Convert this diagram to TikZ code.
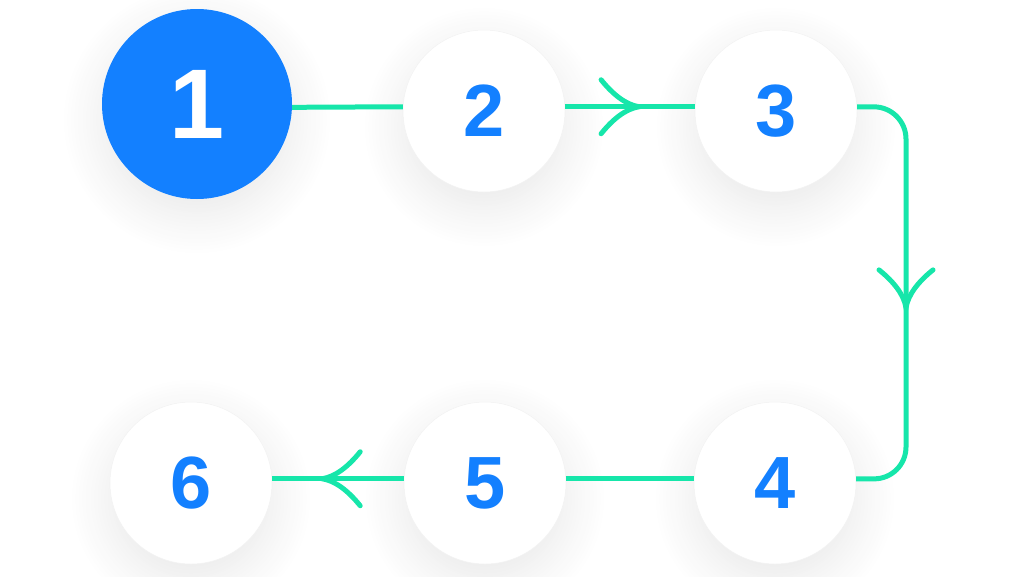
\documentclass[tikz,border=0pt]{standalone}
\usepackage{fontspec}
\setmainfont{Liberation Sans}
\usetikzlibrary{shadows.blur,decorations.markings}

\definecolor{stepblue}{RGB}{19,128,255}
\definecolor{linkgreen}{RGB}{22,230,170}

\tikzset{
  stepnode/.style={circle, fill=white, draw=black!5, line width=0.5pt, minimum size=162pt, inner sep=0pt,
    text=stepblue, font=\bfseries\fontsize{74}{74}\selectfont,
    blur shadow={shadow xshift=0pt, shadow yshift=-16pt, shadow blur radius=40pt,
      shadow blur steps=24, shadow opacity=9}},
  firstnode/.style={stepnode, fill=stepblue, draw=none, minimum size=190pt, text=white,
    font=\bfseries\fontsize{99}{99}\selectfont},
  link/.style={draw=linkgreen, line width=5pt},
  barb/.style={postaction=decorate, decoration={markings, mark=at position #1 with {
    \draw[linkgreen, line width=5pt, line cap=round]
      (-38pt,-27pt) .. controls (-26pt,-12pt) and (-13pt,-2pt) .. (0pt,0pt)
      .. controls (-13pt,2pt) and (-26pt,12pt) .. (-38pt,27pt);}}}
}

\begin{document}
\begin{tikzpicture}[x=1pt,y=-1pt]
\useasboundingbox (0,0) rectangle (1024,576);

\node (S1) at (197,104) [firstnode] {1};
\node (S2) at (484,111) [stepnode] {2};
\node (S3) at (776,111) [stepnode] {3};
\node (S4) at (775,483) [stepnode] {4};
\node (S5) at (485,483) [stepnode] {5};
\node (S6) at (191,483) [stepnode] {6};

\coordinate (R1) at (906,107);
\coordinate (R2) at (906,479);

\draw [link] (S1.-2) -- (S2.177);
\draw [link, barb=0.57] (S2.3) -- (S3.177);
\draw [link, rounded corners=32pt] (S3.3) -- (R1) -- (R2) -- (S4.3);
\path [barb=0.54] (R1) -- (R2);
\draw [link] (S4.177) -- (S5.3);
\draw [link, barb=0.62] (S5.177) -- (S6.3);

\end{tikzpicture}
\end{document}
